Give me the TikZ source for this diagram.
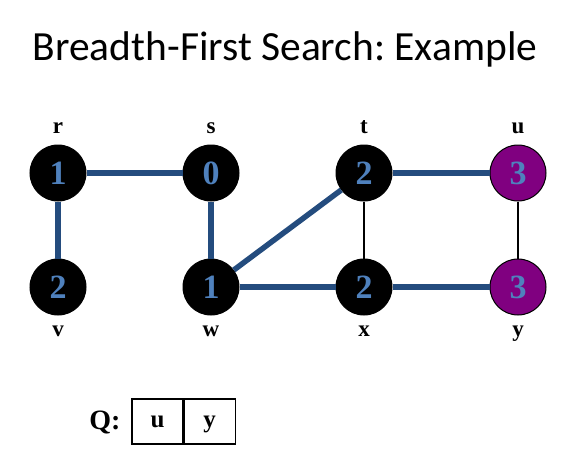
\documentclass[tikz,border=0pt]{standalone}
\usepackage{fontspec}
\setmainfont{Liberation Serif}
\newfontfamily\titlefont{Carlito}
\usepackage{tikz}
\usetikzlibrary{positioning}
\definecolor{treeblue}{RGB}{36,76,126}
\definecolor{distblue}{RGB}{79,129,189}
\definecolor{donepurple}{RGB}{128,0,128}
\tikzset{
  vertex/.style={circle, draw=black, line width=1pt, fill=black,
                 minimum size=56pt, inner sep=0pt, text=distblue,
                 font=\fontsize{34}{34}\selectfont\bfseries},
  queued/.style={vertex, fill=donepurple},
  vlabel/.style={font=\fontsize{23}{23}\selectfont\bfseries, inner sep=0pt,
                 text height=1.6ex, text depth=0.5ex},
  treeedge/.style={treeblue, line width=5.5pt},
  otheredge/.style={black, line width=1.2pt},
  qcell/.style={rectangle, draw=black, line width=1.2pt, minimum width=51pt,
                minimum height=45pt, inner sep=0pt, text height=13pt, text depth=1.5pt,
                font=\fontsize{25}{25}\selectfont\bfseries},
}

\begin{document}
\frenchspacing
\begin{tikzpicture}[x=1pt, y=-1pt]
    \useasboundingbox (0,0) rectangle (570,466);

    % Title
    \node[font=\titlefont\fontsize{41.5}{48}\selectfont] (title) at (285,49) {Breadth-First Search: Example};

    % Top row
    \node[vertex] (r) at (58,173) {1};
    \node[vertex] (s) at (211,173) {0};
    \node[vertex] (t) at (364,173) {2};
    \node[queued] (u) at (518,173) {3};

    % Bottom row
    \node[vertex] (v) at (58,287) {2};
    \node[vertex] (w) at (211,287) {1};
    \node[vertex] (x) at (364,287) {2};
    \node[queued] (y) at (518,287) {3};

    % Vertex names
    \node[vlabel] (lbl_r) at (58,131) {r};
    \node[vlabel] (lbl_s) at (211,131) {s};
    \node[vlabel] (lbl_t) at (364,131) {t};
    \node[vlabel] (lbl_u) at (518,131) {u};
    \node[vlabel] (lbl_v) at (58,334) {v};
    \node[vlabel] (lbl_w) at (211,334) {w};
    \node[vlabel] (lbl_x) at (364,334) {x};
    \node[vlabel] (lbl_y) at (518,334) {y};

    % Tree edges
    \draw[treeedge] (r) -- (s);
    \draw[treeedge] (r) -- (v);
    \draw[treeedge] (s) -- (w);
    \draw[treeedge] (w) -- (t);
    \draw[treeedge] (w) -- (x);
    \draw[treeedge] (t) -- (u);
    \draw[treeedge] (x) -- (y);

    % Non-tree edges
    \draw[otheredge] (t) -- (x);
    \draw[otheredge] (u) -- (y);

    % Queue
    \node[font=\fontsize{28}{28}\selectfont\bfseries] (qlabel) at (105,422) {Q:};
    \node[qcell] (q_u) at (157.5,421.5) {u};
    \node[qcell, right=0pt of q_u] (q_y) {y};
  \end{tikzpicture}
\end{document}
